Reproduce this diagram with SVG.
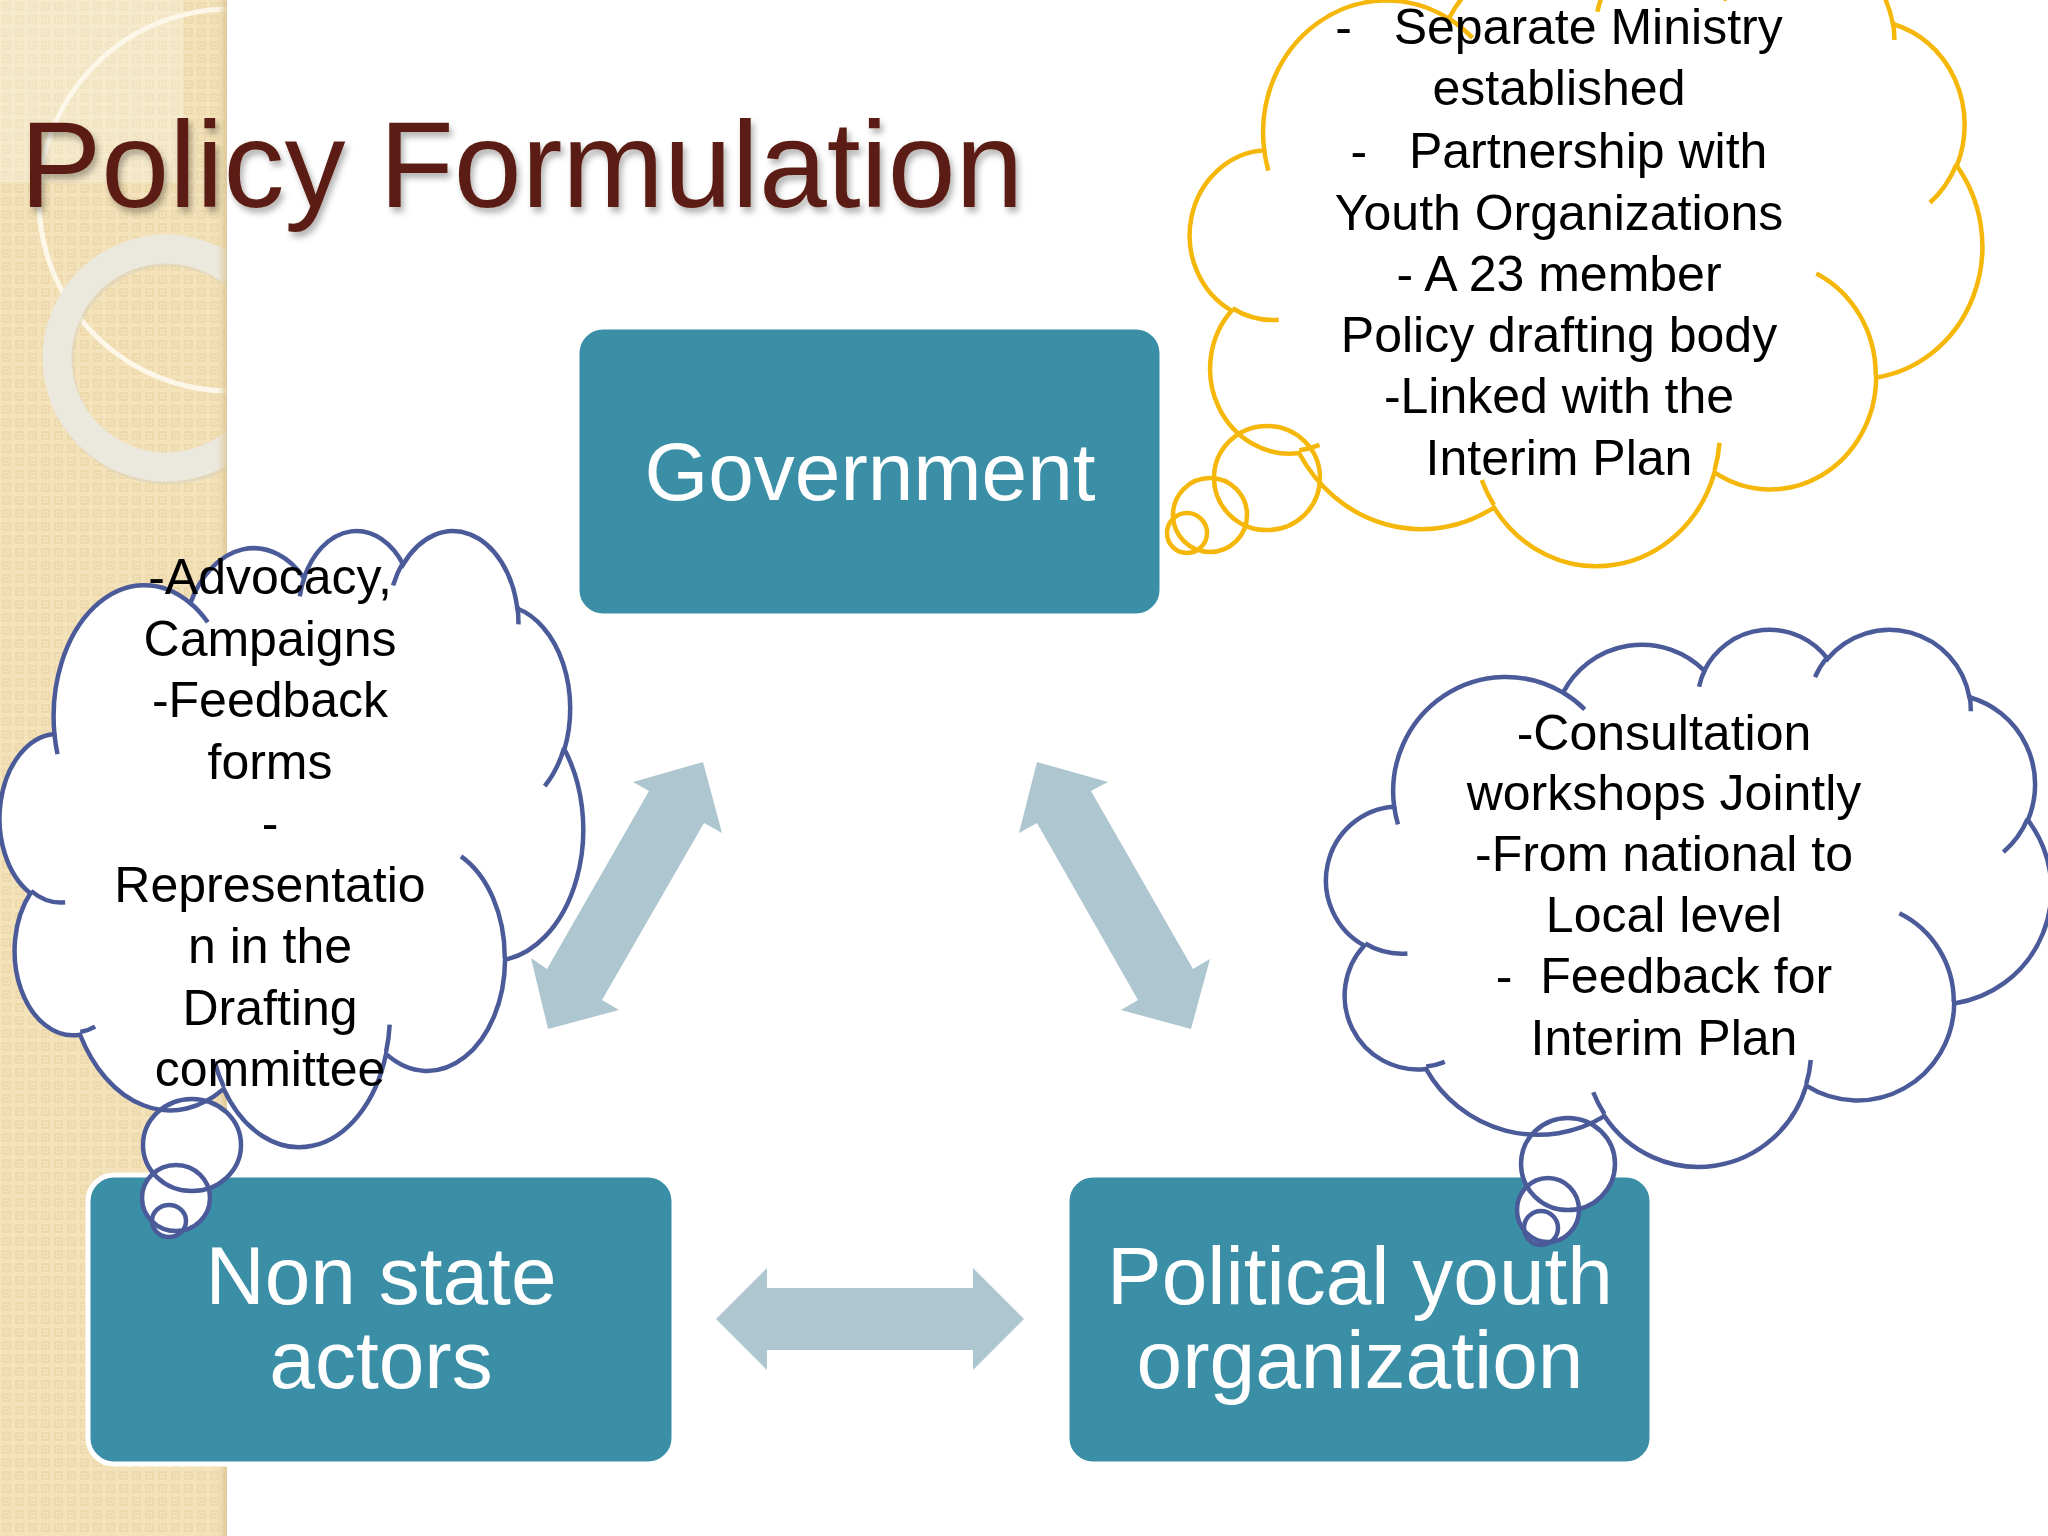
<svg xmlns="http://www.w3.org/2000/svg" xmlns:xlink="http://www.w3.org/1999/xlink" width="2048" height="1536" viewBox="0 0 2048 1536">
<style>
.box { fill:#3a8fa7; stroke:#ffffff; stroke-width:5; }
.boxtxt { font-family:"Liberation Sans", Arial, sans-serif; font-size:82px; fill:#ffffff; text-anchor:middle; }
.ctxt { font-family:"Liberation Sans", Arial, sans-serif; font-size:50px; fill:#000000; text-anchor:middle; white-space:pre; }
.arrow { fill:#aec6cf; }
.cfill { fill:#ffffff; stroke:none; }
.yel { fill:none; stroke:#f5b70a; stroke-width:4.5; }
.nav { fill:none; stroke:#4b5a99; stroke-width:4.5; }
.title { font-family:"Liberation Sans", Arial, sans-serif; font-size:122px; fill:#5b1f12; }
</style>
<defs>
  <pattern id="weave" width="13" height="13" patternUnits="userSpaceOnUse">
    <rect width="13" height="13" fill="#f3e2ba"/>
    <rect x="3" y="3" width="7" height="7" fill="none" stroke="#e9d4a2" stroke-width="1.2"/>
    <rect x="5.5" y="5.5" width="2" height="2" fill="#e9d4a2"/>
  </pattern>
  <linearGradient id="edge" x1="0" y1="0" x2="1" y2="0">
    <stop offset="0" stop-color="#e2cf9f" stop-opacity="0"/>
    <stop offset="1" stop-color="#d9c494" stop-opacity="0.8"/>
  </linearGradient>
  <clipPath id="stripClip"><rect x="0" y="0" width="227" height="1536"/></clipPath>
  <filter id="shadow" x="-5%" y="-30%" width="110%" height="160%">
    <feDropShadow dx="3" dy="5" stdDeviation="3" flood-color="#000000" flood-opacity="0.3"/>
  </filter>
  <path id="cloudShape" vector-effect="non-scaling-stroke" d="M3900 14370 A6753 9190 0 0 1 14005 5202 A5333 7267 0 0 1 22456 3432 A4365 5945 0 0 1 29832 2479 A4857 6595 0 0 1 38317 5574 A5333 7273 0 0 1 41818 15458 A6775 9220 0 0 1 37405 30203 A5785 7867 0 0 1 28556 36813 A6752 9215 0 0 1 16481 39265 A7720 10543 0 0 1 5804 35468 A4360 5918 0 0 1 2112 25547 A4345 5945 0 0 1 3900 14370 Z"/>
  <path id="cloudStubs" vector-effect="non-scaling-stroke" d="M4693 26177 A4345 5945 0 0 1 2160 25380 M6928 34899 A4360 5918 0 0 1 5820 35280 M16478 39090 A6752 9215 0 0 1 15810 37349 M28827 34751 A6752 9215 0 0 1 28560 36660 M34129 22954 A5785 7867 0 0 1 37381 30090 M41798 15354 A5333 7273 0 0 1 40350 18030 M38324 5426 A4857 6595 0 0 1 38401 6690 M29078 3952 A4857 6595 0 0 1 29820 2339 M22141 4720 A4365 5945 0 0 1 22500 3330 M14000 5192 A6753 9190 0 0 1 15300 6540 M4127 15789 A6753 9190 0 0 1 3900 14371"/>
</defs>

<rect x="0" y="0" width="2048" height="1536" fill="#ffffff"/>

<g id="background-strip" clip-path="url(#stripClip)">
  <rect x="0" y="0" width="227" height="1536" fill="url(#weave)"/>
  <rect x="0" y="0" width="183" height="182" fill="#ffffff" opacity="0.28"/>
  <circle cx="230" cy="200" r="191" fill="none" stroke="#fcf7e8" stroke-width="5"/>
  <circle cx="168" cy="361" r="109" fill="none" stroke="#d8d2c0" stroke-width="29" opacity="0.5"/>
  <circle cx="166" cy="358" r="109" fill="none" stroke="#ebe8de" stroke-width="29"/>
  <rect x="217" y="0" width="10" height="1536" fill="url(#edge)"/>
</g>

<text class="title" x="20" y="207" filter="url(#shadow)">Policy Formulation</text>

<g id="node-government">
  <rect class="box" x="577" y="327" width="585" height="289" rx="26" ry="26"/>
  <text class="boxtxt" x="870" y="500">Government</text>
</g>
<g id="node-nonstate">
  <rect class="box" x="88" y="1175" width="586" height="289" rx="26" ry="26"/>
  <text class="boxtxt" x="381" y="1304">Non state</text>
  <text class="boxtxt" x="381" y="1388">actors</text>
</g>
<g id="node-political">
  <rect class="box" x="1067" y="1175" width="585" height="289" rx="26" ry="26"/>
  <text class="boxtxt" x="1360" y="1304">Political youth</text>
  <text class="boxtxt" x="1360" y="1388">organization</text>
</g>

<g id="connectors">
  <polygon class="arrow" points="703,762 722,833 704,823 602,1000 619,1010 548,1029 531,958 547,969 649,791 633,782"/>
  <polygon class="arrow" points="1037,762 1108,782 1091,791 1193,969 1210,959 1191,1029 1121,1010 1138,1000 1037,823 1019,833"/>
  <polygon class="arrow" points="716,1319 767,1268 767,1288 973,1288 973,1268 1024,1319 973,1370 973,1350 767,1350 767,1370"/>
</g>

<g id="cloud-government">
  <g transform="translate(1193,-56) scale(0.018264,0.014352)"><use xlink:href="#cloudShape" class="cfill"/></g>
  <ellipse class="cfill" cx="1267" cy="478" rx="53" ry="52"/>
  <ellipse class="cfill" cx="1210" cy="515" rx="37" ry="37"/>
  <ellipse class="cfill" cx="1187" cy="533" rx="20" ry="20"/>
  <g transform="translate(1193,-56) scale(0.018264,0.014352)"><use xlink:href="#cloudShape" class="yel"/><use xlink:href="#cloudStubs" class="yel"/></g>
  <ellipse class="yel" cx="1267" cy="478" rx="53" ry="52"/>
  <ellipse class="yel" cx="1210" cy="515" rx="37" ry="37"/>
  <ellipse class="yel" cx="1187" cy="533" rx="20" ry="20"/>
  <text class="ctxt" xml:space="preserve" x="1559" y="44">-   Separate Ministry</text>
  <text class="ctxt" x="1559" y="105">established</text>
  <text class="ctxt" xml:space="preserve" x="1559" y="168">-   Partnership with</text>
  <text class="ctxt" x="1559" y="230">Youth Organizations</text>
  <text class="ctxt" xml:space="preserve" x="1559" y="291">- A 23 member</text>
  <text class="ctxt" x="1559" y="352">Policy drafting body</text>
  <text class="ctxt" x="1559" y="413">-Linked with the</text>
  <text class="ctxt" x="1559" y="475">Interim Plan</text>
</g>

<g id="cloud-nonstate">
  <g transform="translate(2,529) scale(0.013449,0.014259)"><use xlink:href="#cloudShape" class="cfill"/></g>
  <ellipse class="cfill" cx="192" cy="1145" rx="49" ry="46"/>
  <ellipse class="cfill" cx="176" cy="1198" rx="34" ry="33"/>
  <ellipse class="cfill" cx="169" cy="1221" rx="17" ry="16"/>
  <g transform="translate(2,529) scale(0.013449,0.014259)"><use xlink:href="#cloudShape" class="nav"/><use xlink:href="#cloudStubs" class="nav"/></g>
  <ellipse class="nav" cx="192" cy="1145" rx="49" ry="46"/>
  <ellipse class="nav" cx="176" cy="1198" rx="34" ry="33"/>
  <ellipse class="nav" cx="169" cy="1221" rx="17" ry="16"/>
  <text class="ctxt" x="270" y="594">-Advocacy,</text>
  <text class="ctxt" x="270" y="656">Campaigns</text>
  <text class="ctxt" x="270" y="717">-Feedback</text>
  <text class="ctxt" x="270" y="779">forms</text>
  <text class="ctxt" x="270" y="840">-</text>
  <text class="ctxt" x="270" y="902">Representatio</text>
  <text class="ctxt" x="270" y="963">n in the</text>
  <text class="ctxt" x="270" y="1025">Drafting</text>
  <text class="ctxt" x="270" y="1086">committee</text>
</g>

<g id="cloud-political">
  <g transform="translate(1329,628) scale(0.016713,0.012431)"><use xlink:href="#cloudShape" class="cfill"/></g>
  <ellipse class="cfill" cx="1568" cy="1164" rx="47" ry="46"/>
  <ellipse class="cfill" cx="1548" cy="1210" rx="31" ry="32"/>
  <ellipse class="cfill" cx="1541" cy="1228" rx="17" ry="17"/>
  <g transform="translate(1329,628) scale(0.016713,0.012431)"><use xlink:href="#cloudShape" class="nav"/><use xlink:href="#cloudStubs" class="nav"/></g>
  <ellipse class="nav" cx="1568" cy="1164" rx="47" ry="46"/>
  <ellipse class="nav" cx="1548" cy="1210" rx="31" ry="32"/>
  <ellipse class="nav" cx="1541" cy="1228" rx="17" ry="17"/>
  <text class="ctxt" x="1664" y="750">-Consultation</text>
  <text class="ctxt" x="1664" y="810">workshops Jointly</text>
  <text class="ctxt" x="1664" y="871">-From national to</text>
  <text class="ctxt" x="1664" y="932">Local level</text>
  <text class="ctxt" xml:space="preserve" x="1664" y="993">-  Feedback for</text>
  <text class="ctxt" x="1664" y="1055">Interim Plan</text>
</g>
</svg>
